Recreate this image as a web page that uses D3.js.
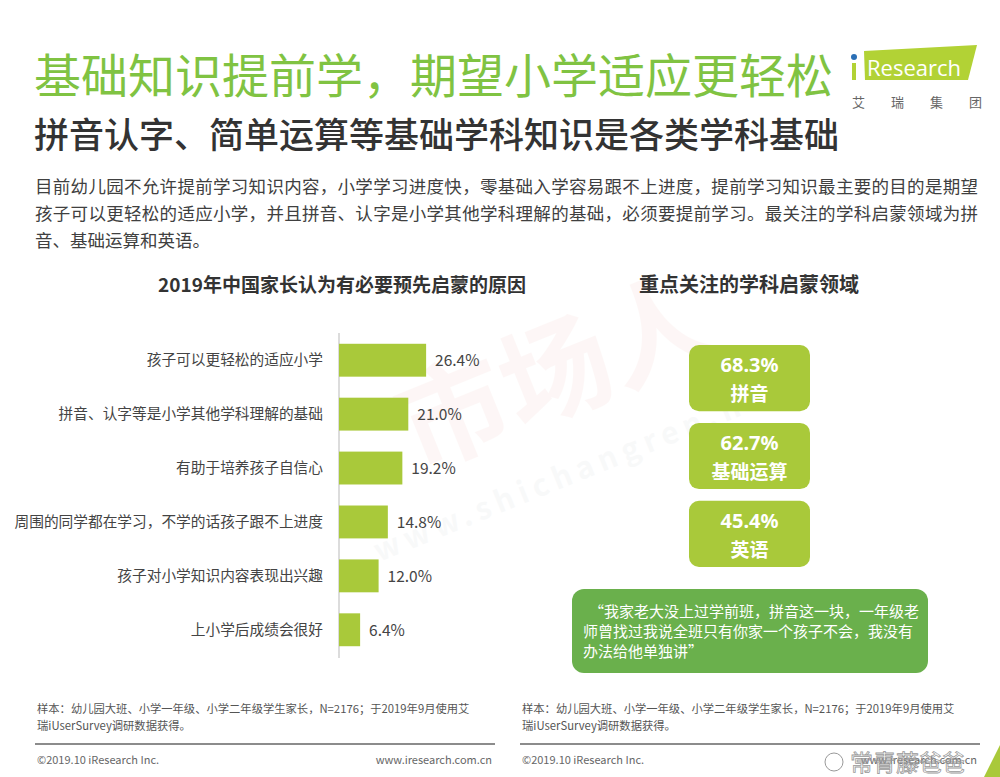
<!DOCTYPE html>
<html>
<head>
<meta charset="utf-8">
<script src="https://cdn.jsdelivr.net/npm/d3@7"></script>
<style>
body{margin:0;background:#fff;}
svg{display:block;font-family:"Noto Sans CJK SC","Noto Sans",sans-serif;}
</style>
</head>
<body>
<div id="chart"></div>
<script>
var w = 1000, h = 777;

// data
var reasons = ["孩子可以更轻松的适应小学", "拼音、认字等是小学其他学科理解的基础", "有助于培养孩子自信心",
  "周围的同学都在学习，不学的话孩子跟不上进度", "孩子对小学知识内容表现出兴趣", "上小学后成绩会很好"];
var reasonValues = [26.4, 21.0, 19.2, 14.8, 12.0, 6.4];
var areas = ["拼音", "基础运算", "英语"];
var areaValues = [68.3, 62.7, 45.4];

var title = "基础知识提前学，期望小学适应更轻松";
var subtitle = "拼音认字、简单运算等基础学科知识是各类学科基础";
var para = ["目前幼儿园不允许提前学习知识内容，小学学习进度快，零基础入学容易跟不上进度，提前学习知识最主要的目的是期望",
  "孩子可以更轻松的适应小学，并且拼音、认字是小学其他学科理解的基础，必须要提前学习。最关注的学科启蒙领域为拼",
  "音、基础运算和英语。"];
var quote = ["“我家老大没上过学前班，拼音这一块，一年级老", "师曾找过我说全班只有你家一个孩子不会，我没有", "办法给他单独讲”"];
var note = ["样本：幼儿园大班、小学一年级、小学二年级学生家长，N=2176；于2019年9月使用艾", "瑞iUserSurvey调研数据获得。"];

var lime = "#a9c93a", green = "#80c342";

var svg = d3.select("#chart").append("svg")
  .attr("width", w)
  .attr("height", h);

// faint watermark
var wm = svg.append("g").attr("opacity", 0.04).attr("transform", "rotate(-22 540 400)");
wm.append("text").text("市场人").attr("x", 400).attr("y", 420)
  .style("font-size", "110px").style("font-weight", "bold").style("fill", "#d43");
wm.append("text").text("www.shichangren.net").attr("x", 330).attr("y", 490)
  .style("font-size", "30px").style("font-weight", "bold").style("fill", "#678").style("letter-spacing", "6px");

// headings
svg.append("text").text(title).attr("x", 34).attr("y", 93)
  .style("font-size", "47px").style("fill", green);
svg.append("text").text(subtitle).attr("x", 34).attr("y", 148)
  .style("font-size", "35px").style("fill", "#333").style("font-weight", 500);

svg.selectAll(".para").data(para).enter().append("text")
  .attr("class", "para")
  .text(function(d){return d;})
  .attr("x", 35)
  .attr("y", function(d, i){return 193 + i * 27;})
  .attr("textLength", function(d, i){return i < 2 ? 943 : null;})
  .attr("lengthAdjust", "spacing")
  .style("font-size", "17.5px").style("fill", "#404040");

// logo
var logo = svg.append("g").attr("transform", "translate(850,44)");
logo.append("path").attr("d", "M14,7L127,1L118,36L15,36Z").style("fill", "#b2d235");
logo.append("rect").attr("x", 2).attr("y", 19).attr("width", 4).attr("height", 17).style("fill", "#b2d235");
logo.append("circle").attr("cx", 4).attr("cy", 13).attr("r", 3).style("fill", "#2a6fb6");
logo.append("text").text("Research").attr("x", 17).attr("y", 32)
  .style("font-family", "'Open Sans',sans-serif").style("font-size", "22px").style("fill", "#fff");
svg.selectAll(".logo-cn").data(["艾", "瑞", "集", "团"]).enter().append("text")
  .text(function(d){return d;})
  .attr("x", function(d, i){return 852 + i * 39;})
  .attr("y", 107)
  .style("font-size", "13px").style("fill", "#666");

// left chart
svg.append("text").text("2019年中国家长认为有必要预先启蒙的原因").attr("x", 342).attr("y", 292)
  .attr("text-anchor", "middle")
  .style("font-size", "19px").style("font-weight", "bold").style("fill", "#333");

var x = d3.scaleLinear().domain([0, 30]).range([339, 438]);
var y = d3.scaleBand().domain(reasons).range([333, 657]).paddingInner(0.39).paddingOuter(0.2);

svg.append("line").attr("x1", 339).attr("x2", 339).attr("y1", 333).attr("y2", 658)
  .style("stroke", "#d0d0d0").style("stroke-width", 1.5);

svg.selectAll(".bar").data(reasonValues).enter().append("rect")
  .attr("class", "bar")
  .attr("x", x(0))
  .attr("y", function(d, i){return y(reasons[i]);})
  .attr("width", function(d){return x(d) - x(0);})
  .attr("height", y.bandwidth())
  .style("fill", lime);

svg.selectAll(".cat").data(reasons).enter().append("text")
  .attr("class", "cat")
  .text(function(d){return d;})
  .attr("x", 323)
  .attr("y", function(d){return y(d) + y.bandwidth() / 2 + 5;})
  .attr("text-anchor", "end")
  .style("font-size", "14.7px").style("fill", "#444");

svg.selectAll(".val").data(reasonValues).enter().append("text")
  .attr("class", "val")
  .text(function(d){return d.toFixed(1) + "%";})
  .attr("x", function(d){return x(d) + 9;})
  .attr("y", function(d, i){return y(reasons[i]) + y.bandwidth() / 2 + 6;})
  .style("font-size", "15.5px").style("fill", "#444");

// right panel
svg.append("text").text("重点关注的学科启蒙领域").attr("x", 749).attr("y", 292)
  .attr("text-anchor", "middle")
  .style("font-size", "20px").style("font-weight", "bold").style("fill", "#333");

var yb = d3.scaleBand().domain(areas).range([345, 567]).paddingInner(0.15);

var box = svg.selectAll(".box").data(areas).enter().append("g")
  .attr("class", "box")
  .attr("transform", function(d){return "translate(689," + yb(d) + ")";});
box.append("rect").attr("width", 121).attr("height", yb.bandwidth())
  .attr("rx", 10).style("fill", lime);
box.append("text").text(function(d, i){return areaValues[i].toFixed(1) + "%";})
  .attr("x", 60.5).attr("y", 27)
  .attr("text-anchor", "middle")
  .style("font-family", "'Noto Sans',sans-serif")
  .style("font-size", "20px").style("font-weight", "bold").style("fill", "#fff");
box.append("text").text(function(d){return d;})
  .attr("x", 60.5).attr("y", 56)
  .attr("text-anchor", "middle")
  .style("font-size", "19px").style("font-weight", "bold").style("fill", "#fff");

svg.append("rect").attr("x", 572).attr("y", 589).attr("width", 356).attr("height", 84)
  .attr("rx", 12).style("fill", "#6ab04c");
svg.selectAll(".quote").data(quote).enter().append("text")
  .attr("class", "quote")
  .text(function(d){return d;})
  .attr("x", function(d, i){return i == 0 ? 589 : 583;})
  .attr("y", function(d, i){return 617 + i * 20;})
  .style("font-size", "15px").style("fill", "#fff");

// footers
[37, 522].forEach(function(fx){
  svg.selectAll(null).data(note).enter().append("text")
    .text(function(d){return d;})
    .attr("x", fx)
    .attr("y", function(d, i){return 713 + i * 17;})
    .style("font-size", "11.3px").style("fill", "#555");
  svg.append("line").attr("x1", fx - 2).attr("x2", fx + 458).attr("y1", 744).attr("y2", 744)
    .style("stroke", "#666").style("stroke-width", 1.5);
  svg.append("text").text("©2019.10 iResearch Inc.").attr("x", fx).attr("y", 764)
    .style("font-size", "11px").style("fill", "#666");
  svg.append("text").text("www.iresearch.com.cn").attr("x", fx + 455).attr("y", 764)
    .attr("text-anchor", "end")
    .style("font-size", "11px").style("fill", "#666");
});

// wechat overlay + corner
svg.append("text").text("常青藤爸爸").attr("x", 850).attr("y", 771)
  .style("font-size", "23px").style("fill", "none").style("stroke", "#999").style("stroke-width", 0.8);
svg.append("circle").attr("cx", 834).attr("cy", 762).attr("r", 9)
  .style("fill", "none").style("stroke", "#999").style("stroke-width", 1);
svg.append("polygon").attr("points", "1000,745 1000,777 984,777").style("fill", lime);
</script>
</body>
</html>
